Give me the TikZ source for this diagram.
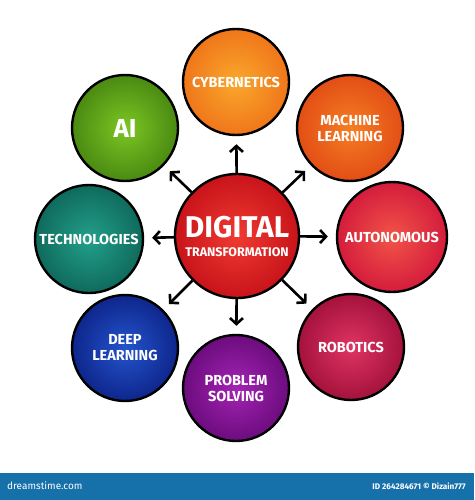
\documentclass[tikz,border=0pt]{standalone}
\usepackage{fontspec}
\setmainfont{Fira Sans}
\usetikzlibrary{arrows.meta}

\definecolor{digin}{HTML}{F03A32}
\definecolor{digout}{HTML}{C8141A}
\definecolor{cybin}{HTML}{F9A82C}
\definecolor{cybout}{HTML}{F0761A}
\definecolor{aiin}{HTML}{7CC623}
\definecolor{aiout}{HTML}{4A8A12}
\definecolor{machin}{HTML}{F67E22}
\definecolor{machout}{HTML}{E24E16}
\definecolor{techin}{HTML}{22A08A}
\definecolor{techout}{HTML}{0F6A5C}
\definecolor{autoin}{HTML}{F25448}
\definecolor{autoout}{HTML}{D41C3C}
\definecolor{deepin}{HTML}{2454CC}
\definecolor{deepout}{HTML}{0E268C}
\definecolor{probin}{HTML}{A424B4}
\definecolor{probout}{HTML}{6C0C7E}
\definecolor{roboin}{HTML}{E03462}
\definecolor{roboout}{HTML}{A4123C}
\definecolor{barblue}{HTML}{1670AA}

\begin{document}
\begin{tikzpicture}
  [x=1pt,y=-1pt,
   bubble/.style={circle,draw=black,line width=2.4pt,minimum size=106pt,inner sep=0pt,
     text=white,align=center,font=\bfseries\fontsize{14.5}{16}\selectfont},
   arr/.style={line width=2.6pt,-{Straight Barb[length=6pt,width=13pt]},shorten >=8pt}]
  \useasboundingbox (0,0) rectangle (474,500);
  \fill[white] (0,0) rectangle (474,500);

  \node[bubble,minimum size=124pt,inner color=digin,outer color=digout] (dig) at (237,236)
    {{\fontsize{30}{28}\selectfont DIGITAL}\\[3pt]{\fontsize{12.5}{12}\selectfont TRANSFORMATION}};
  \node[bubble,inner color=cybin,outer color=cybout] (cyb) at (236,82) {CYBERNETICS};
  \node[bubble,inner color=machin,outer color=machout] (mach) at (350,128) {MACHINE\\LEARNING};
  \node[bubble,minimum size=110pt,inner color=autoin,outer color=autoout] (auto) at (392,237) {AUTONOMOUS};
  \node[bubble,inner color=roboin,outer color=roboout] (robo) at (351,347) {ROBOTICS};
  \node[bubble,inner color=probin,outer color=probout] (prob) at (236,388) {PROBLEM\\SOLVING};
  \node[bubble,inner color=deepin,outer color=deepout] (deep) at (125,348) {DEEP\\LEARNING};
  \node[bubble,minimum size=108pt,inner color=techin,outer color=techout] (tech) at (89,239) {TECHNOLOGIES};
  \node[bubble,inner color=aiin,outer color=aiout,font=\bfseries\fontsize{26}{26}\selectfont] (ai) at (125,128) {AI};

  \foreach \to in {cyb,mach,auto,robo,prob,deep,tech,ai}
    \draw[arr] (dig) -- (\to);

  % credit bar
  \fill[barblue] (0,473) rectangle (474,500);
  \node[anchor=west,text=white,font=\fontsize{10}{11}\selectfont,inner sep=0pt] (site) at (7,486) {dreamstime.com};
  \node[anchor=east,text=white,font=\bfseries\fontsize{8.2}{9}\selectfont,inner sep=0pt] (credit) at (466,486) {ID 264284671 © Dizain777};
\end{tikzpicture}
\end{document}
